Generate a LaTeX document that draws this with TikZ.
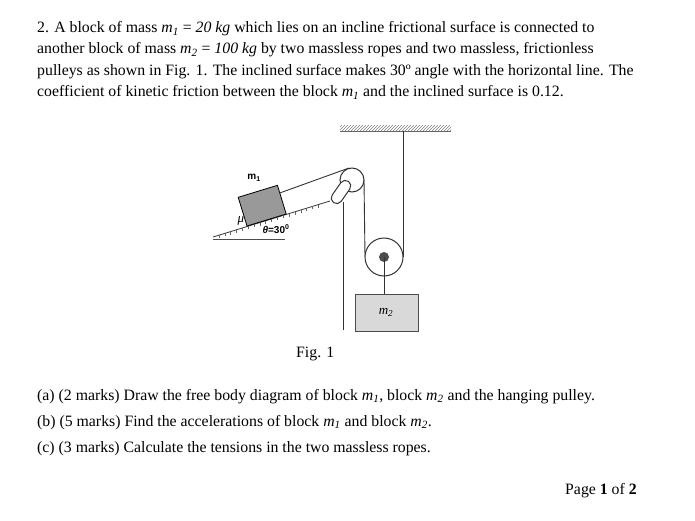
\documentclass[tikz,border=0pt]{standalone}
\usepackage{fontspec}
\setmainfont{Liberation Serif}
\newfontfamily\sfa{Liberation Sans}
\usetikzlibrary{patterns,calc}
\newcommand{\mi}[2]{\textit{m}\textsubscript{\textit{#1}}}
\begin{document}
\begin{tikzpicture}[x=1pt,y=-1pt,
  txt/.style={anchor=base west,inner sep=0,font=\fontsize{15.8}{18}\selectfont},
  rope/.style={line width=0.9pt,black!80},
  wheel/.style={draw=black!80,line width=1pt,fill=white}]
\useasboundingbox (0,0) rectangle (695,521);
\node[txt] (l1) at (37,33) {2. A block of mass \mi{1}{} = \textit{20 kg} which lies on an incline frictional surface is connected to};
\node[txt] (l2) at (37,54) {another block of mass \mi{2}{} = \textit{100 kg} by two massless ropes and two massless, frictionless};
\node[txt] (l3) at (37,76) {pulleys as shown in Fig. 1. The inclined surface makes 30º angle with the horizontal line. The};
\node[txt] (l4) at (37,97) {coefficient of kinetic friction between the block \mi{1}{} and the inclined surface is 0.12.};
% ceiling
\fill[pattern=north east lines,pattern color=black!50] (340,126) rectangle (451,131);
\draw[black!60] (340,131) -- (451,131);
% incline
\draw[black!70] (213,239) -- (285,239);
\draw[black!80,line width=0.8pt] (213,237) -- (330,201);
\foreach \t in {0.05,0.1,...,0.95} \draw[black!60] ($(213,237)!\t!(330,201)$) -- ++(0,3);
% block m1
\coordinate (b0) at (247,226);
\begin{scope}[shift={(b0)},rotate=17]
\draw[fill=black!40,line width=0.8pt] (0,0) rectangle (41,-30);
\coordinate (ra) at (41,-22);
\end{scope}
\node[font=\sfa\bfseries\fontsize{10}{10}\selectfont] (m1) at (254,178) {m\textsubscript{1}};
\node[font=\fontsize{13}{13}\selectfont\itshape] (mu) at (241,221) {μ};
\node[font=\sfa\bfseries\fontsize{10}{10}\selectfont] (th) at (276,229) {\textit{θ}=30\textsuperscript{0}};
% fixed pulley
\coordinate (fp) at (352,180);
\draw[rope] (ra) -- (349,168);
\draw[wheel] (fp) circle (12);
\draw[rope] (343,202) -- (343,330);
\draw[wheel,rotate around={55:(341,192)},rounded corners=5.5pt] (328,186.5) rectangle (354,197.5);
% hanging pulley
\coordinate (hp) at (384,257);
\draw[rope] (364,180) -- (365,257);
\draw[rope] (403,131) -- (403,257);
\draw[wheel] (hp) circle (19);
\fill[black!70] (hp) circle (5);
\draw[rope] (hp) -- (384,294);
\node[draw=black!70,fill=black!15,minimum width=63,minimum height=37,anchor=north west,inner sep=0,line width=0.8pt] (m2) at (355,294) {};
\node[font=\fontsize{13}{13}\selectfont] (m2l) at (386,312) {\mi{2}{}};
\node[txt] (fig) at (296,357) {Fig. 1};
\node[txt] (a) at (37,400) {(a) (2 marks) Draw the free body diagram of block \mi{1}{}, block \mi{2}{} and the hanging pulley.};
\node[txt] (b) at (37,426) {(b) (5 marks) Find the accelerations of block \mi{1}{} and block \mi{2}{}.};
\node[txt] (c) at (37,452) {(c) (3 marks) Calculate the tensions in the two massless ropes.};
\node[txt] (p) at (565,494) {Page \textbf{1} of \textbf{2}};
\end{tikzpicture}
\end{document}
